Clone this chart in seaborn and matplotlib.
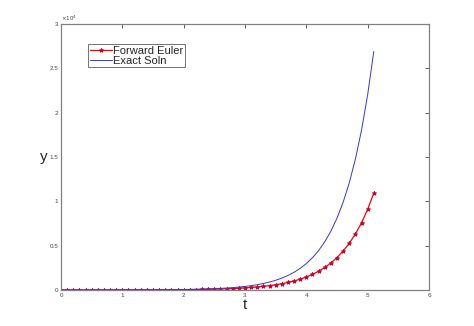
import numpy as np
import pandas as pd
import matplotlib
matplotlib.use("Agg")
import matplotlib.pyplot as plt
import seaborn as sns
from matplotlib.ticker import FuncFormatter

# time grid, step 0.1 from 0 to 5.1
t = [round(0.1 * k, 1) for k in range(52)]

euler = [1, 1.2, 1.44, 1.728, 2.074, 2.488, 2.986, 3.583, 4.300, 5.160,
         6.192, 7.430, 8.916, 10.70, 12.84, 15.41, 18.49, 22.19, 26.62, 31.95,
         38.34, 46.01, 55.21, 66.25, 79.50, 95.40, 114.5, 137.4, 164.8, 197.8,
         237.4, 284.9, 341.8, 410.2, 492.2, 590.7, 708.8, 850.6, 1020.7, 1224.9,
         1469.8, 1763.8, 2116.5, 2539.8, 3047.8, 3657.3, 4388.8, 5266.6, 6319.9, 7583.9,
         9100.4, 10920.5]

exact = [1, 1.221, 1.492, 1.822, 2.226, 2.718, 3.320, 4.055, 4.953, 6.050,
         7.389, 9.025, 11.02, 13.46, 16.44, 20.09, 24.53, 29.96, 36.60, 44.70,
         54.60, 66.69, 81.45, 99.48, 121.5, 148.4, 181.3, 221.4, 270.4, 330.3,
         403.4, 492.7, 601.8, 735.1, 897.8, 1096.6, 1339.4, 1636.0, 1998.2, 2440.6,
         2981.0, 3641.0, 4447.1, 5431.7, 6634.2, 8103.1, 9897.1, 12088.4, 14764.8, 18033.7,
         22026.5, 26903.2]

df = pd.DataFrame({"t": t, "euler": euler, "exact": exact})

sns.set_theme(style="white")
plt.rcParams['font.family'] = ['Liberation Sans', 'DejaVu Sans']

fig = plt.figure(figsize=(4.74, 3.26), dpi=100)
ax = fig.add_axes([61 / 474, 1 - 290 / 326, 368 / 474, 266 / 326])

sns.lineplot(data=df, x="t", y="euler", ax=ax, color="red", lw=0.9,
             marker="*", markersize=3.2, markeredgecolor="#c00030",
             markeredgewidth=0.6, markerfacecolor="red", label="Forward Euler")
sns.lineplot(data=df, x="t", y="exact", ax=ax, color="#3535e0", lw=0.7,
             label="Exact Soln")

ax.set_xlim(0, 6)
ax.set_ylim(0, 30000)
ax.set_xticks([0, 1, 2, 3, 4, 5, 6])
ax.set_yticks([0, 5000, 10000, 15000, 20000, 25000, 30000])
ax.yaxis.set_major_formatter(FuncFormatter(lambda v, p: "%g" % (v / 1e4)))
ax.text(0.0, 1.004, r"$\times10^4$", transform=ax.transAxes, fontsize=4,
        color="#444444", ha="left", va="bottom")

ax.tick_params(direction="in", length=3, width=0.6, labelsize=4.5,
               colors="#444444", top=True, right=True, pad=2)
for s in ax.spines.values():
    s.set_color("#808080")
    s.set_linewidth(0.9)

ax.set_xlabel("t", fontsize=11, labelpad=0)
ax.set_ylabel("y", fontsize=11, rotation=0, labelpad=4, va="center")

leg = ax.legend(loc="upper left", bbox_to_anchor=(0.073, 0.925), fontsize=8,
                frameon=True, fancybox=False, borderpad=0.15, labelspacing=0.0,
                handlelength=2.0, handletextpad=0.15, borderaxespad=0)
leg.get_frame().set_edgecolor("#333333")
leg.get_frame().set_linewidth(0.6)

fig.savefig("out.png", dpi=100)
